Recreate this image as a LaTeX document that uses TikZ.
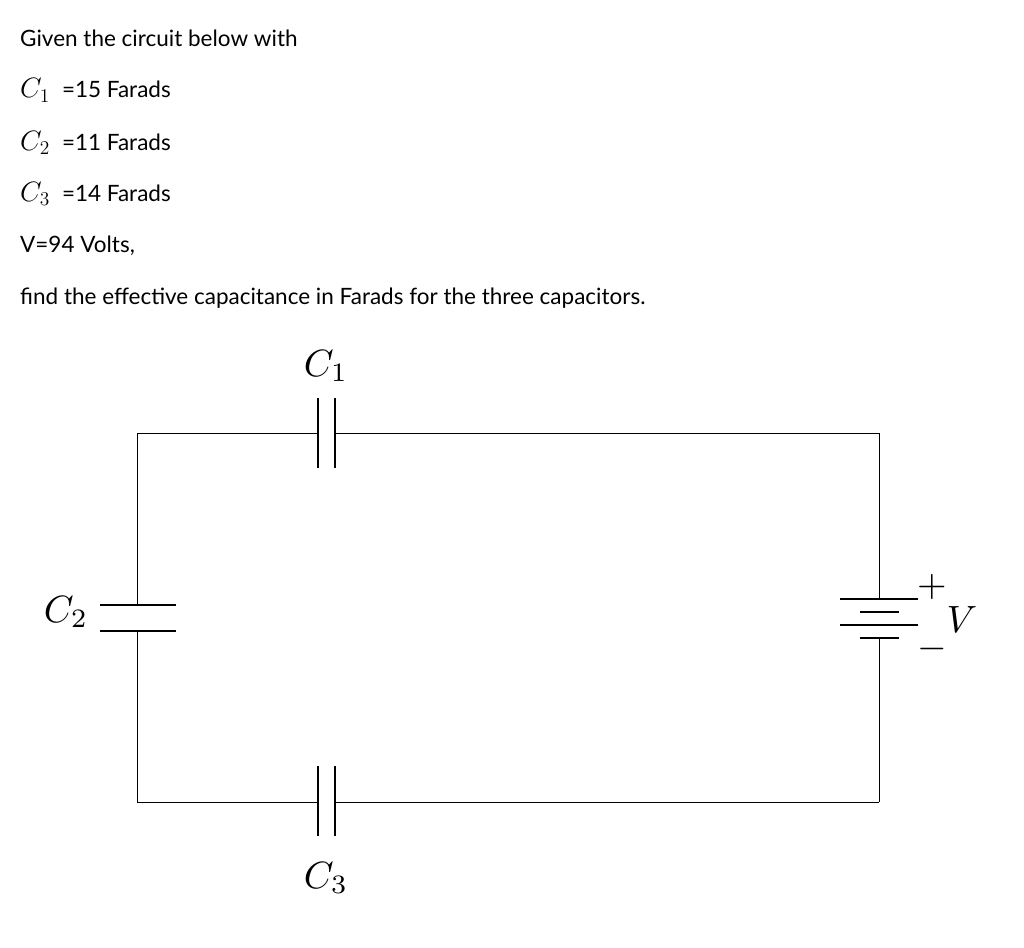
\documentclass[tikz,border=0pt]{standalone}
\usepackage{fontspec}
\setmainfont{Lato}
\newcommand{\mylbl}[1]{\scalebox{3.8}{$#1$}}
\newcommand{\mysm}[1]{\scalebox{1.35}{$#1$}}
\begin{document}
\begin{tikzpicture}[x=1pt,y=-1pt,
  txt/.style={anchor=base west,inner sep=0pt,font=\fontsize{22.5}{26}\selectfont},
  lbl/.style={inner sep=0pt},
  wire/.style={line width=1pt},
  plate/.style={line width=1.8pt}]
\useasboundingbox (0,0) rectangle (1024,947);
\node[txt] (t1) at (20,47) {Given the circuit below with};
\node[txt] (t2) at (20,98) {\mysm{C_1}\; =15 Farads};
\node[txt] (t3) at (20,150) {\mysm{C_2}\; =11 Farads};
\node[txt] (t4) at (20,201) {\mysm{C_3}\; =14 Farads};
\node[txt] (t5) at (20,252) {V=94 Volts,};
\node[txt] (t6) at (20,304) {find the effective capacitance in Farads for the three capacitors.};
\coordinate (tl) at (137,433); \coordinate (tr) at (879,433);
\coordinate (bl) at (137,802); \coordinate (br) at (879,802);
% C1
\draw[wire] (tl) -- (318,433) (335,433) -- (tr);
\draw[plate] (318,398) -- (318,468) (335,398) -- (335,468);
\node[lbl] (c1) at (326,366) {\mylbl{C_1}};
% C3
\draw[wire] (bl) -- (318,802) (335,802) -- (br);
\draw[plate] (318,766) -- (318,836) (335,766) -- (335,836);
\node[lbl] (c3) at (326,878) {\mylbl{C_3}};
% C2
\draw[wire] (tl) -- (137,605) (137,631) -- (bl);
\draw[plate] (100,605) -- (176,605) (100,631) -- (176,631);
\node[lbl] (c2) at (66,612) {\mylbl{C_2}};
% battery
\draw[wire] (tr) -- (879,599) (879,638) -- (br);
\draw[plate] (840,599) -- (918,599) (860,612) -- (899,612)
  (840,625) -- (918,625) (860,638) -- (899,638);
\node[lbl] (plus) at (932,587) {\mylbl{+}};
\node[lbl] (minus) at (932,649) {\mylbl{-}};
\node[lbl] (v) at (962,620) {\mylbl{V}};
\end{tikzpicture}
\end{document}
